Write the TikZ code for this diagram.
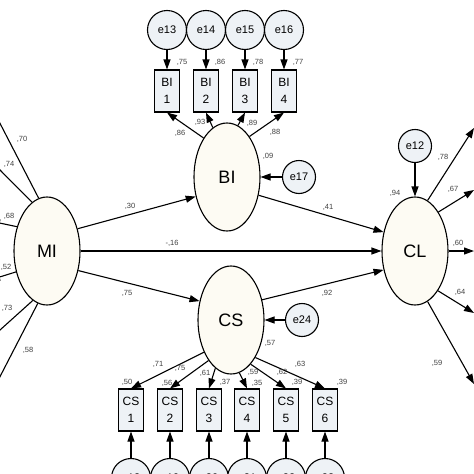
\documentclass[tikz,border=0pt]{standalone}
\usepackage{fontspec}
\setmainfont{Liberation Sans}
\usetikzlibrary{shapes.geometric,arrows.meta}
\definecolor{latfill}{HTML}{FDFBF3}
\definecolor{obsfill}{HTML}{EEF2F6}
\begin{document}
\begin{tikzpicture}[x=1pt,y=-1pt,line width=1.1pt,
latent/.style={draw, ellipse, fill=latfill, minimum width=66pt, minimum height=108pt, inner sep=0pt, font=\fontsize{18}{18}\selectfont},
err/.style={draw, circle, fill=obsfill, minimum size=39pt, inner sep=0pt, font=\fontsize{11}{11}\selectfont},
res/.style={err, minimum size=33pt},
indic/.style={draw, rectangle, fill=obsfill, minimum width=25pt, minimum height=42pt, inner sep=1pt, align=center, font=\fontsize{12}{17}\selectfont},
regr/.style={-{Triangle[length=10pt,width=7pt]}},
coef/.style={inner sep=0pt, text=black!75, font=\fontsize{7.5}{7.5}\selectfont}]
\clip (0,0) rectangle (474,474);
\node[latent] (MI) at (47,251) {MI};
\node[latent] (BI) at (227,177) {BI};
\node[latent] (CS) at (231,320) {CS};
\node[latent] (CL) at (415,251) {CL};
\node[res] (e12) at (415,146) {e12};
\node[res] (e17) at (299,177) {e17};
\node[res] (e24) at (302,320) {e24};
\foreach \x/\i/\e/\ang in {167/1/13/121,206/2/14/106,245/3/15/78,284/4/16/61}{
  \node[err] (e\e) at (\x,30) {e\e};
  \node[indic] (bi\i) at (\x,91) {BI\\\i};
  \draw[regr] (e\e) -- (bi\i);
  \draw[regr] (BI.\ang) -- (bi\i.south);
}
\foreach \x/\i/\e/\ang in {131/1/18/230,170/2/19/241,209/3/20/252,247/4/21/279,286/5/22/294,325/6/23/303}{
  \node[err] (e\e) at (\x,478) {e\e};
  \node[indic] (cs\i) at (\x,410) {CS\\\i};
  \draw[regr] (e\e) -- (cs\i);
  \draw[regr] (CS.\ang) -- (cs\i.north);
}
\draw[regr] (MI.36) -- (BI.212);
\draw[regr] (MI.0) -- (CL.180);
\draw[regr] (MI.-32) -- (CS.149);
\draw[regr] (BI.-30) -- (CL.149);
\draw[regr] (CS.33) -- (CL.211);
\draw[regr] (e12) -- (CL);
\draw[regr] (e17) -- (BI);
\draw[regr] (e24) -- (CS);
\foreach \ang/\y [count=\k] in {99/104,107/160,141/221,214/280,254/339,260/396}{
  \coordinate (mi\k) at (-10,\y);
  \draw[regr] (MI.\ang) -- (mi\k);
}
\foreach \ang/\y [count=\k] in {76/128,59/190,0/251,-60/313,-76/384}{
  \coordinate (cl\k) at (474,\y);
  \draw[regr] (CL.\ang) -- (cl\k);
}
\foreach \x/\y/\t in {182/62/75,220/62/86,258/62/78,298/62/77,180/133/86,200/122/93,252/123/89,275/132/88,268/156/09,
  130/206/30,127/293/75,328/207/41,327/293/92,395/193/94,
  158/364/71,180/368/75,205/373/61,253/372/59,282/372/62,300/364/63,270/343/57,
  127/382/50,167/383/56,225/382/37,257/383/35,297/382/39,342/382/39,
  443/157/78,453/189/67,458/243/60,460/292/64,437/363/59,
  22/139/70,9/164/74,9/216/68,6/267/52,7/308/73,28/350/58}
  \node[coef] at (\x,\y) {,\t};
\node[coef] at (172,243) {-,16};
\end{tikzpicture}
\end{document}
